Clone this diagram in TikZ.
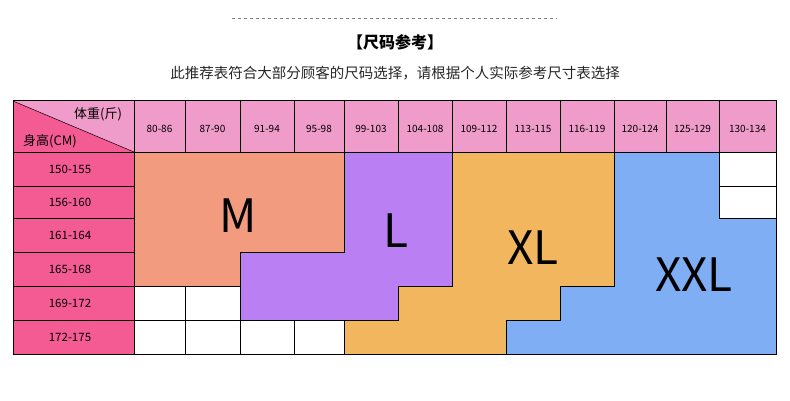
\documentclass[tikz,border=0pt]{standalone}
\usepackage{fontspec}
\newfontfamily\cjk{Noto Sans CJK SC}
\setmainfont{Noto Sans CJK SC}
\definecolor{hdr}{HTML}{F09CCB}
\definecolor{lft}{HTML}{F45B93}
\definecolor{cM}{HTML}{F29B7F}
\definecolor{cL}{HTML}{BA7FF3}
\definecolor{cXL}{HTML}{F2B65F}
\definecolor{cXXL}{HTML}{7FAEF5}
\tikzset{reg/.style={draw=black,line width=0.8pt},
 hlab/.style={font=\fontsize{10}{10}\selectfont},
 vlab/.style={font=\fontsize{11.5}{12}\selectfont},
 big/.style={font=\fontsize{46}{46}\selectfont}}
\begin{document}
\begin{tikzpicture}[x=1pt,y=-1pt]
\useasboundingbox (0,0) rectangle (790,401);
% title
\draw[dashed,line width=0.6pt,gray] (232,18) coordinate (d1) -- (557,18) coordinate (d2);
\node[font=\fontsize{16}{16}\selectfont\bfseries] (title) at (395,42) {【尺码参考】};
\node[font=\fontsize{14.5}{15}\selectfont,text=black!85] (sub) at (395,73) {此推荐表符合大部分顾客的尺码选择，请根据个人实际参考尺寸表选择};
% header row
\fill[hdr] (134,101) rectangle (776,152);
\shade[left color=lft, right color=hdr, shading angle=45] (13,101) rectangle (134,152);
\fill[hdr] (13,101) -- (134,101) -- (134,152) -- cycle;
\fill[lft] (13,101) -- (134,152) -- (13,152) -- cycle;
\fill[lft] (13,152) rectangle (134,354);
% regions
\fill[cM,reg] (134,152) -- (344,152) -- (344,252) -- (240,252) -- (240,286) -- (134,286) -- cycle;
\fill[cL,reg] (344,152) -- (452,152) -- (452,286) -- (398,286) -- (398,320) -- (240,320) -- (240,252) -- (344,252) -- cycle;
\fill[cXL,reg] (452,152) -- (614,152) -- (614,286) -- (560,286) -- (560,320) -- (506,320) -- (506,354) -- (344,354) -- (344,320) -- (398,320) -- (398,286) -- (452,286) -- cycle;
\fill[cXXL,reg] (614,152) -- (776,152) -- (776,354) -- (506,354) -- (506,320) -- (560,320) -- (560,286) -- (614,286) -- cycle;
\fill[white,reg] (719,152) rectangle (776,186);
\fill[white,reg] (719,186) rectangle (776,218);
\foreach \a/\b in {134/185,185/240}{\fill[white,reg] (\a,286) rectangle (\b,320);}
\foreach \a/\b in {134/185,185/240,240/294,294/344}{\fill[white,reg] (\a,320) rectangle (\b,354);}
% grid lines
\foreach \x in {134,185,240,294,344,398,452,506,560,614,666,719}{\draw[line width=0.8pt] (\x,101) -- (\x,152);}
\foreach \y in {152,186,218,252,286,320}{\draw[line width=0.8pt] (13,\y) -- (134,\y);}
\draw[line width=0.8pt] (13,152) -- (776,152);
\draw[line width=0.5pt] (13,101) -- (134,152);
\draw[line width=1pt] (13,101) rectangle (776,354);
% header labels
\foreach \c/\t in {159.5/80-86,212.5/87-90,267/91-94,319/95-98,371/99-103,425/104-108,479/109-112,533/113-115,587/116-119,640/120-124,692.5/125-129,747.5/130-134}{\node[hlab] (h\t) at (\c,129) {\t};}
\node[font=\fontsize{13}{13}\selectfont] (wt) at (98,114) {体重(斤)};
\node[font=\fontsize{13}{13}\selectfont] (ht) at (50,141) {身高(CM)};
\foreach \c/\t in {169/150-155,202/156-160,235/161-164,269/165-168,303/169-172,337/172-175}{\node[vlab] (v\t) at (70,\c) {\t};}
% size labels
\node[big] (M) at (238,216) {M};
\node[big] (L) at (396,231) {L};
\node[big] (XL) at (533,248) {XL};
\node[big] (XXL) at (694,275) {XXL};
\end{tikzpicture}
\end{document}
